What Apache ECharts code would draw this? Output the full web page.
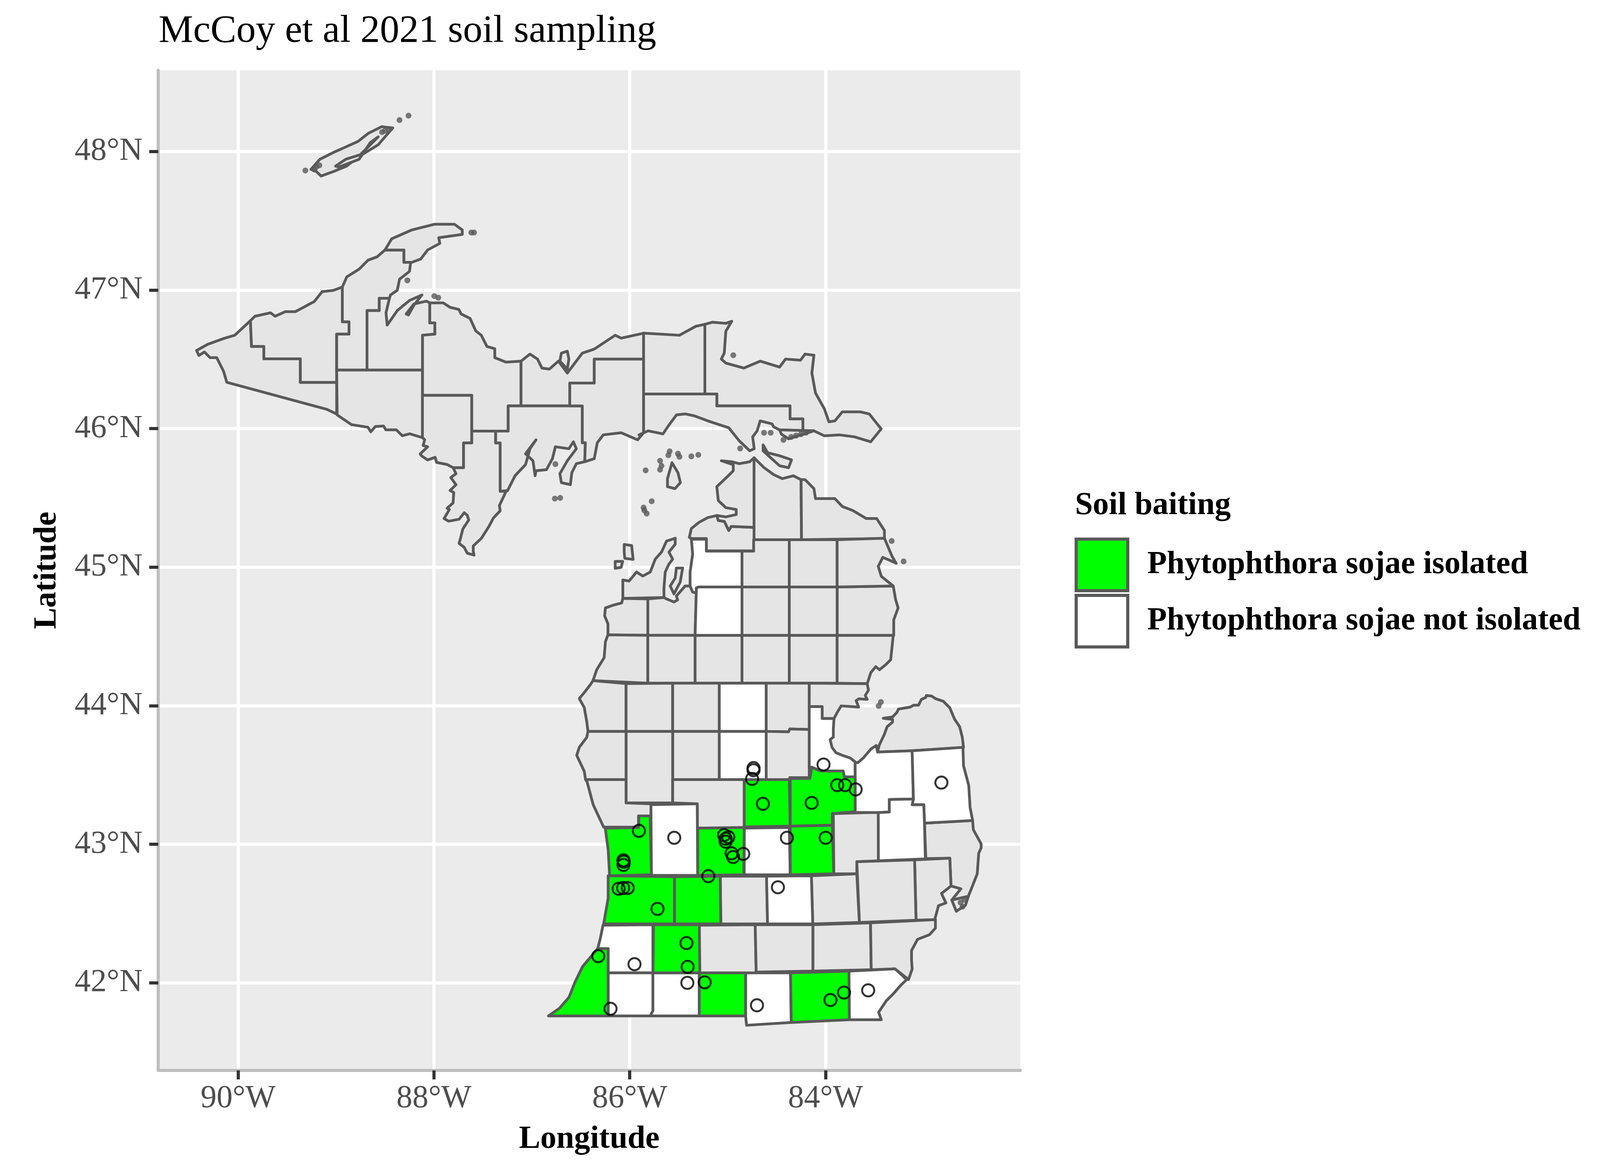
<!DOCTYPE html>
<html>
<head>
<meta charset="utf-8">
<title>McCoy et al 2021 soil sampling</title>
<script src="https://cdn.jsdelivr.net/npm/echarts@6/dist/echarts.min.js"></script>
<style>
  html, body { margin: 0; padding: 0; background: #fff; }
  #chart { width: 4200px; height: 3000px; }
</style>
</head>
<body>
<div id="chart"></div>
<script>
// Tick values and labels
var lonTicks = [-90, -88, -86, -84];
var lonLabels = ['90°W', '88°W', '86°W', '84°W'];
var latTicks = [42, 43, 44, 45, 46, 47, 48];
var latLabels = ['42°N', '43°N', '44°N', '45°N', '46°N', '47°N', '48°N'];

// Soil sampling sites [lon, lat]
var samplingSites = [
    [-84.735, 43.55], [-84.735, 43.535], [-84.75, 43.472], [-84.02, 43.576], [-82.816, 43.445],
    [-83.88, 43.427], [-83.80, 43.427], [-83.692, 43.396], [-84.639, 43.292], [-84.141, 43.299],
    [-85.906, 43.097], [-85.545, 43.047], [-84.394, 43.047], [-83.998, 43.047], [-85.036, 43.067],
    [-84.993, 43.052], [-85.02, 43.04], [-85.02, 43.019], [-84.959, 42.935], [-84.944, 42.908],
    [-84.84, 42.931], [-86.064, 42.885], [-86.061, 42.874], [-86.064, 42.851], [-85.197, 42.77],
    [-84.486, 42.69], [-86.113, 42.679], [-86.067, 42.685], [-86.02, 42.685], [-85.716, 42.534],
    [-85.42, 42.287], [-85.408, 42.115], [-85.411, 42.0], [-85.234, 42.004], [-86.321, 42.193],
    [-85.951, 42.135], [-86.196, 41.813], [-84.7, 41.838], [-83.949, 41.876], [-83.811, 41.93],
    [-83.564, 41.946]
];

// Counties where Phytophthora sojae was isolated
var ottawa = [[-86.25, 43.117], [-85.91, 43.121], [-85.905, 43.205], [-85.79, 43.205], [-85.778, 42.78], [-86.205, 42.773], [-86.22, 42.962]];
var allegan = [[-86.22, 42.773], [-85.542, 42.766], [-85.542, 42.425], [-86.266, 42.425], [-86.22, 42.611]];
var barry = [[-85.542, 42.766], [-85.075, 42.77], [-85.069, 42.425], [-85.542, 42.425]];
var ionia = [[-85.305, 43.117], [-84.83, 43.122], [-84.835, 42.78], [-85.305, 42.776]];
var gratiot = [[-84.83, 43.467], [-84.37, 43.467], [-84.36, 43.131], [-84.83, 43.125]];
var saginaw = [[-84.36, 43.475], [-84.16, 43.475], [-84.14, 43.556], [-84.05, 43.529], [-83.82, 43.529], [-83.807, 43.487], [-83.697, 43.487], [-83.697, 43.235], [-83.93, 43.221], [-83.93, 43.137], [-84.36, 43.131]];
var shiawassee = [[-84.36, 43.131], [-83.93, 43.137], [-83.915, 42.787], [-84.36, 42.78]];
var kalamazoo = [[-85.756, 42.42], [-85.289, 42.42], [-85.283, 42.072], [-85.763, 42.072]];
var berrien = [[-86.83, 41.761], [-86.22, 41.761], [-86.22, 42.247], [-86.327, 42.247], [-86.48, 42.119], [-86.56, 42.004], [-86.62, 41.896], [-86.72, 41.815]];
var branch = [[-85.289, 42.072], [-84.816, 42.072], [-84.816, 41.761], [-85.289, 41.761]];
var lenawee = [[-84.357, 42.072], [-83.76, 42.085], [-83.757, 41.734], [-84.35, 41.714]];

// Counties where it was not isolated
var antrim = [[-85.37, 45.202], [-85.217, 45.202], [-85.217, 45.116], [-84.853, 45.116], [-84.853, 44.857], [-85.294, 44.857], [-85.319, 44.85], [-85.319, 44.814], [-85.357, 44.821], [-85.383, 44.864], [-85.383, 44.965], [-85.357, 45.094]];
var kalkaska = [[-85.319, 44.85], [-85.294, 44.857], [-84.853, 44.857], [-84.853, 44.508], [-85.332, 44.508]];
var clare = [[-85.085, 44.163], [-84.606, 44.163], [-84.606, 43.815], [-85.085, 43.815]];
var isabella = [[-85.085, 43.815], [-84.606, 43.815], [-84.606, 43.467], [-85.085, 43.467]];
var bay = [[-84.166, 43.994], [-84.034, 43.994], [-84.034, 43.908], [-83.913, 43.908], [-83.92, 43.83], [-83.92, 43.774], [-83.953, 43.755], [-83.933, 43.699], [-83.893, 43.661], [-83.827, 43.642], [-83.747, 43.623], [-83.697, 43.595], [-83.697, 43.487], [-83.807, 43.487], [-83.82, 43.529], [-84.05, 43.529], [-84.14, 43.556], [-84.166, 43.556]];
var tuscola = [[-83.697, 43.23], [-83.697, 43.59], [-83.667, 43.59], [-83.614, 43.623], [-83.534, 43.689], [-83.481, 43.713], [-83.468, 43.666], [-83.115, 43.675], [-83.102, 43.327], [-83.348, 43.323], [-83.348, 43.233], [-83.461, 43.229]];
var sanilac = [[-83.115, 43.675], [-82.596, 43.70], [-82.59, 43.567], [-82.537, 43.426], [-82.523, 43.266], [-82.497, 43.172], [-82.989, 43.153], [-82.996, 43.285], [-83.115, 43.285], [-83.102, 43.327]];
var lapeer = [[-83.461, 43.229], [-83.348, 43.233], [-83.348, 43.323], [-83.102, 43.327], [-83.115, 43.285], [-82.996, 43.285], [-82.989, 43.153], [-82.98, 42.895], [-83.46, 42.881]];
var kent = [[-85.783, 43.286], [-85.31, 43.292], [-85.305, 42.776], [-85.778, 42.776]];
var clinton = [[-84.83, 43.117], [-84.37, 43.122], [-84.36, 42.78], [-84.83, 42.78]];
var ingham = [[-84.602, 42.77], [-84.144, 42.773], [-84.13, 42.425], [-84.592, 42.425]];
var vanBuren = [[-86.327, 42.247], [-86.22, 42.247], [-86.22, 42.072], [-85.763, 42.072], [-85.763, 42.42], [-86.272, 42.416], [-86.302, 42.315]];
var cass = [[-86.22, 42.072], [-85.763, 42.072], [-85.763, 41.798], [-85.79, 41.761], [-86.22, 41.761]];
var stJoseph = [[-85.763, 42.072], [-85.289, 42.072], [-85.289, 41.761], [-85.79, 41.761], [-85.763, 41.798]];
var hillsdale = [[-84.816, 42.072], [-84.357, 42.072], [-84.35, 41.714], [-84.806, 41.694], [-84.816, 41.761]];
var monroe = [[-83.76, 42.085], [-83.29, 42.101], [-83.17, 42.024], [-83.24, 41.976], [-83.305, 41.923], [-83.38, 41.87], [-83.457, 41.788], [-83.43, 41.734], [-83.757, 41.734]];

// Counties not sampled, lower peninsula
var charlevoix = [[-85.391, 45.215], [-85.37, 45.279], [-85.293, 45.323], [-85.202, 45.358], [-85.11, 45.373], [-85.095, 45.337], [-85.033, 45.33], [-84.988, 45.265], [-84.963, 45.294], [-84.728, 45.287], [-84.728, 45.118], [-85.217, 45.118], [-85.217, 45.207], [-85.37, 45.207]];
var emmet = [[-84.728, 45.79], [-84.774, 45.761], [-84.881, 45.747], [-84.957, 45.761], [-85.064, 45.768], [-84.942, 45.74], [-84.942, 45.696], [-85.003, 45.653], [-85.11, 45.581], [-85.095, 45.481], [-85.018, 45.43], [-84.912, 45.416], [-84.912, 45.38], [-85.018, 45.363], [-85.11, 45.373], [-85.095, 45.337], [-85.033, 45.33], [-84.988, 45.265], [-84.963, 45.294], [-84.728, 45.287]];
var cheboygan = [[-84.73, 45.79], [-84.63, 45.72], [-84.53, 45.668], [-84.44, 45.639], [-84.33, 45.66], [-84.25, 45.632], [-84.245, 45.198], [-84.73, 45.198]];
var presqueIsle = [[-84.249, 45.632], [-84.209, 45.632], [-84.118, 45.567], [-84.102, 45.495], [-83.904, 45.495], [-83.828, 45.438], [-83.721, 45.409], [-83.584, 45.351], [-83.477, 45.351], [-83.398, 45.265], [-83.398, 45.207], [-84.245, 45.198]];
var leelanau = [[-86.07, 44.775], [-86.07, 44.908], [-86.006, 44.90], [-85.93, 44.965], [-85.866, 44.936], [-85.79, 44.965], [-85.739, 45.058], [-85.675, 45.109], [-85.624, 45.188], [-85.535, 45.209], [-85.535, 45.166], [-85.599, 45.109], [-85.561, 45.058], [-85.599, 45.023], [-85.637, 44.965], [-85.65, 44.85], [-85.65, 44.781]];
var grandTraverse = [[-85.815, 44.771], [-85.65, 44.781], [-85.624, 44.771], [-85.548, 44.749], [-85.51, 44.764], [-85.523, 44.792], [-85.434, 44.864], [-85.383, 44.864], [-85.357, 44.821], [-85.319, 44.814], [-85.332, 44.508], [-85.815, 44.508]];
var oldMission = [[-85.523, 44.994], [-85.459, 44.994], [-85.484, 44.893], [-85.548, 44.807], [-85.586, 44.864], [-85.535, 44.922]];
var benzie = [[-86.222, 44.512], [-86.222, 44.591], [-86.256, 44.649], [-86.248, 44.706], [-86.159, 44.728], [-86.082, 44.742], [-86.07, 44.775], [-85.815, 44.771], [-85.815, 44.508]];
var manistee = [[-86.222, 44.512], [-85.815, 44.508], [-85.815, 44.163], [-86.375, 44.181], [-86.337, 44.26], [-86.261, 44.347], [-86.248, 44.462]];
var wexford = [[-85.815, 44.508], [-85.332, 44.508], [-85.332, 44.163], [-85.815, 44.163]];
var missaukee = [[-85.332, 44.508], [-84.853, 44.508], [-84.853, 44.163], [-85.332, 44.163]];
var roscommon = [[-84.853, 44.508], [-84.37, 44.508], [-84.37, 44.163], [-84.853, 44.163]];
var ogemaw = [[-84.37, 44.508], [-83.881, 44.508], [-83.881, 44.163], [-84.37, 44.163]];
var iosco = [[-83.881, 44.508], [-83.308, 44.508], [-83.321, 44.419], [-83.334, 44.332], [-83.385, 44.296], [-83.448, 44.26], [-83.487, 44.282], [-83.537, 44.239], [-83.574, 44.159], [-83.881, 44.163]];
var alcona = [[-83.881, 44.857], [-83.308, 44.864], [-83.283, 44.764], [-83.258, 44.706], [-83.303, 44.62], [-83.303, 44.508], [-83.881, 44.508]];
var crawford = [[-84.853, 44.857], [-84.37, 44.857], [-84.37, 44.508], [-84.853, 44.508]];
var oscoda = [[-84.37, 44.857], [-83.881, 44.857], [-83.881, 44.508], [-84.37, 44.508]];
var otsego = [[-84.734, 45.198], [-84.37, 45.198], [-84.37, 44.857], [-84.853, 44.857], [-84.853, 45.116], [-84.734, 45.116]];
var montmorency = [[-84.37, 45.198], [-83.881, 45.198], [-83.881, 44.857], [-84.37, 44.857]];
var alpena = [[-83.881, 45.198], [-83.398, 45.209], [-83.321, 45.08], [-83.278, 45.028], [-83.347, 45.051], [-83.415, 45.071], [-83.461, 45.006], [-83.43, 44.934], [-83.308, 44.864], [-83.881, 44.857]];
var mason = [[-86.375, 44.181], [-86.037, 44.16], [-86.037, 43.815], [-86.426, 43.815], [-86.439, 43.887], [-86.464, 43.987], [-86.515, 44.052], [-86.464, 44.095], [-86.401, 44.153]];
var lake = [[-86.037, 44.16], [-85.561, 44.163], [-85.561, 43.815], [-86.037, 43.815]];
var osceola = [[-85.561, 44.163], [-85.085, 44.163], [-85.085, 43.815], [-85.561, 43.815]];
var gladwin = [[-84.606, 44.163], [-84.166, 44.163], [-84.166, 43.829], [-84.365, 43.832], [-84.377, 43.812], [-84.606, 43.815]];
var arenac = [[-84.166, 44.163], [-83.574, 44.159], [-83.561, 44.112], [-83.594, 44.074], [-83.574, 44.046], [-83.66, 44.05], [-83.687, 44.037], [-83.661, 43.99], [-83.84, 43.999], [-83.88, 43.952], [-83.913, 43.908], [-84.034, 43.908], [-84.034, 43.994], [-84.166, 43.994]];
var midland = [[-84.606, 43.815], [-84.377, 43.812], [-84.365, 43.832], [-84.166, 43.829], [-84.166, 43.481], [-84.365, 43.481], [-84.365, 43.467], [-84.606, 43.467]];
var mecosta = [[-85.561, 43.815], [-85.085, 43.815], [-85.085, 43.467], [-85.561, 43.467]];
var newaygo = [[-86.037, 43.815], [-85.561, 43.815], [-85.561, 43.299], [-86.037, 43.299]];
var oceana = [[-86.426, 43.815], [-86.037, 43.815], [-86.037, 43.467], [-86.451, 43.467], [-86.464, 43.527], [-86.541, 43.642], [-86.515, 43.70], [-86.439, 43.771]];
var muskegon = [[-86.45, 43.467], [-86.037, 43.467], [-86.037, 43.299], [-85.783, 43.292], [-85.783, 43.205], [-85.91, 43.205], [-85.91, 43.124], [-86.266, 43.124], [-86.373, 43.286], [-86.434, 43.448]];
var montcalm = [[-85.561, 43.467], [-84.83, 43.467], [-84.83, 43.117], [-85.31, 43.117], [-85.31, 43.292], [-85.561, 43.299]];
var huron = [[-83.47, 43.666], [-83.45, 43.717], [-83.40, 43.792], [-83.37, 43.849], [-83.315, 43.882], [-83.315, 43.901], [-83.41, 43.91], [-83.315, 43.919], [-83.27, 43.952], [-83.255, 43.976], [-83.135, 43.99], [-83.10, 44.004], [-83.05, 44.004], [-83.02, 44.046], [-82.976, 44.06], [-82.97, 44.074], [-82.916, 44.07], [-82.876, 44.051], [-82.796, 44.032], [-82.73, 43.985], [-82.683, 43.905], [-82.63, 43.849], [-82.603, 43.774], [-82.59, 43.699], [-83.115, 43.675]];
var genesee = [[-83.92, 43.221], [-83.46, 43.232], [-83.46, 42.881], [-83.68, 42.874], [-83.68, 42.787], [-83.915, 42.787]];
var stClair = [[-82.989, 43.153], [-82.497, 43.172], [-82.49, 43.106], [-82.41, 43.003], [-82.41, 42.975], [-82.435, 42.935], [-82.45, 42.787], [-82.51, 42.679], [-82.572, 42.571], [-82.664, 42.517], [-82.71, 42.598], [-82.617, 42.679], [-82.718, 42.699], [-82.73, 42.9], [-82.975, 42.897]];
var macomb = [[-83.09, 42.888], [-82.73, 42.9], [-82.718, 42.699], [-82.815, 42.645], [-82.77, 42.577], [-82.846, 42.557], [-82.884, 42.456], [-83.075, 42.452]];
var oakland = [[-83.68, 42.874], [-83.09, 42.888], [-83.075, 42.452], [-83.654, 42.436]];
var livingston = [[-84.144, 42.773], [-83.68, 42.787], [-83.654, 42.436], [-84.13, 42.425]];
var eaton = [[-85.075, 42.77], [-84.602, 42.77], [-84.592, 42.425], [-85.069, 42.425]];
var calhoun = [[-85.289, 42.416], [-84.718, 42.42], [-84.708, 42.066], [-85.289, 42.072]];
var jackson = [[-84.718, 42.42], [-84.128, 42.42], [-84.128, 42.085], [-84.708, 42.078]];
var washtenaw = [[-84.128, 42.42], [-83.54, 42.433], [-83.533, 42.095], [-84.128, 42.085]];
var wayne = [[-83.54, 42.433], [-82.877, 42.456], [-82.877, 42.395], [-82.937, 42.348], [-83.06, 42.314], [-83.121, 42.233], [-83.121, 42.166], [-83.115, 42.099], [-83.152, 42.024], [-83.29, 42.101], [-83.533, 42.095]];

// Counties not sampled, upper peninsula
var gogebic = [[-90.424, 46.564], [-90.309, 46.609], [-90.149, 46.65], [-90.034, 46.674], [-89.874, 46.779], [-89.863, 46.593], [-89.737, 46.593], [-89.737, 46.504], [-89.364, 46.504], [-89.364, 46.334], [-88.993, 46.334], [-88.993, 46.105], [-89.096, 46.14], [-90.115, 46.334], [-90.149, 46.415], [-90.218, 46.512], [-90.286, 46.512], [-90.344, 46.553], [-90.401, 46.528]];
var ontonagon = [[-89.874, 46.779], [-89.828, 46.811], [-89.668, 46.836], [-89.622, 46.811], [-89.519, 46.844], [-89.416, 46.844], [-89.222, 46.917], [-89.141, 46.989], [-89.027, 46.998], [-88.935, 47.022], [-88.935, 46.771], [-88.867, 46.771], [-88.867, 46.682], [-88.993, 46.682], [-88.993, 46.334], [-89.364, 46.334], [-89.364, 46.504], [-89.737, 46.504], [-89.737, 46.593], [-89.863, 46.593]];
var houghton = [[-88.935, 47.022], [-88.89, 47.095], [-88.764, 47.151], [-88.672, 47.216], [-88.58, 47.24], [-88.5, 47.289], [-88.306, 47.289], [-88.306, 47.2], [-88.237, 47.2], [-88.249, 47.135], [-88.351, 47.078], [-88.374, 46.998], [-88.443, 46.965], [-88.454, 46.941], [-88.558, 46.941], [-88.558, 46.852], [-88.683, 46.852], [-88.683, 46.423], [-88.993, 46.423], [-88.993, 46.682], [-88.867, 46.682], [-88.867, 46.771], [-88.935, 46.771]];
var keweenaw = [[-88.5, 47.289], [-88.431, 47.37], [-88.225, 47.434], [-87.996, 47.475], [-87.79, 47.475], [-87.71, 47.434], [-87.71, 47.402], [-87.951, 47.378], [-87.939, 47.337], [-88.065, 47.289], [-88.134, 47.224], [-88.225, 47.2], [-88.306, 47.2], [-88.306, 47.289]];
var isleRoyale = [[-89.256, 47.871], [-89.164, 47.944], [-89.027, 47.993], [-88.9, 48.033], [-88.775, 48.073], [-88.672, 48.13], [-88.535, 48.179], [-88.42, 48.17], [-88.569, 48.049], [-88.66, 48.009], [-88.775, 47.96], [-88.89, 47.895], [-89.027, 47.855], [-89.153, 47.823], [-89.199, 47.855]];
var isleRoyaleHarbor = [[-89.004, 47.895], [-88.9, 47.944], [-88.752, 47.977], [-88.66, 48.041], [-88.569, 48.106], [-88.649, 48.065], [-88.764, 47.944], [-88.97, 47.888]];
var baraga = [[-88.558, 46.941], [-88.454, 46.941], [-88.489, 46.836], [-88.477, 46.747], [-88.374, 46.852], [-88.249, 46.925], [-88.122, 46.965], [-88.203, 46.892], [-88.26, 46.82], [-88.283, 46.828], [-88.203, 46.9], [-88.077, 46.92], [-88.042, 46.908], [-88.042, 46.763], [-87.99, 46.763], [-87.99, 46.682], [-88.116, 46.674], [-88.116, 46.423], [-88.683, 46.423], [-88.683, 46.852], [-88.558, 46.852]];
var iron = [[-88.993, 46.423], [-88.117, 46.423], [-88.117, 45.935], [-88.247, 45.963], [-88.323, 45.949], [-88.384, 45.991], [-88.491, 45.991], [-88.514, 46.019], [-88.598, 46.015], [-88.644, 45.977], [-88.674, 46.01], [-88.842, 46.029], [-88.988, 46.099]];
var dickinson = [[-88.117, 46.241], [-87.613, 46.241], [-87.613, 45.897], [-87.697, 45.897], [-87.697, 45.718], [-87.804, 45.718], [-87.865, 45.741], [-87.972, 45.756], [-87.987, 45.793], [-88.064, 45.774], [-88.125, 45.803], [-88.14, 45.817], [-88.064, 45.869], [-88.11, 45.878], [-88.094, 45.92], [-88.117, 45.935]];
var menominee = [[-87.613, 45.982], [-87.369, 45.982], [-87.369, 45.897], [-87.323, 45.897], [-87.323, 45.548], [-87.262, 45.548], [-87.331, 45.445], [-87.323, 45.407], [-87.392, 45.355], [-87.438, 45.294], [-87.514, 45.209], [-87.598, 45.153], [-87.598, 45.115], [-87.59, 45.087], [-87.659, 45.101], [-87.69, 45.143], [-87.743, 45.172], [-87.728, 45.209], [-87.705, 45.275], [-87.644, 45.341], [-87.659, 45.374], [-87.69, 45.393], [-87.743, 45.346], [-87.85, 45.332], [-87.896, 45.351], [-87.842, 45.416], [-87.865, 45.426], [-87.804, 45.464], [-87.797, 45.539], [-87.835, 45.553], [-87.774, 45.595], [-87.827, 45.647], [-87.774, 45.675], [-87.804, 45.718], [-87.697, 45.718], [-87.697, 45.897], [-87.613, 45.897]];
var marquette = [[-88.116, 46.674], [-87.99, 46.682], [-87.99, 46.763], [-88.042, 46.763], [-88.042, 46.908], [-87.905, 46.908], [-87.836, 46.876], [-87.745, 46.86], [-87.722, 46.828], [-87.63, 46.795], [-87.573, 46.706], [-87.516, 46.674], [-87.458, 46.593], [-87.378, 46.577], [-87.378, 46.512], [-87.264, 46.48], [-87.11, 46.487], [-87.11, 46.164], [-87.241, 46.164], [-87.241, 45.982], [-87.613, 45.982], [-87.613, 46.241], [-88.116, 46.241]];
var alger = [[-87.11, 46.487], [-87.018, 46.538], [-86.942, 46.502], [-86.896, 46.437], [-86.82, 46.43], [-86.728, 46.487], [-86.637, 46.401], [-86.484, 46.545], [-86.362, 46.574], [-86.148, 46.674], [-86.087, 46.653], [-85.858, 46.689], [-85.858, 46.502], [-86.362, 46.502], [-86.362, 46.329], [-86.612, 46.329], [-86.612, 46.164], [-87.11, 46.164]];
var grandIsland = [[-86.698, 46.545], [-86.637, 46.559], [-86.621, 46.502], [-86.637, 46.43], [-86.713, 46.487]];
var delta = [[-87.241, 46.164], [-86.484, 46.164], [-86.484, 45.898], [-86.453, 45.898], [-86.459, 45.761], [-86.545, 45.747], [-86.591, 45.682], [-86.606, 45.596], [-86.698, 45.61], [-86.713, 45.675], [-86.637, 45.768], [-86.545, 45.855], [-86.575, 45.905], [-86.621, 45.855], [-86.759, 45.869], [-86.789, 45.783], [-86.85, 45.704], [-86.957, 45.696], [-86.966, 45.66], [-86.988, 45.768], [-87.064, 45.819], [-86.957, 45.919], [-87.018, 45.855], [-87.064, 45.74], [-87.171, 45.66], [-87.247, 45.553], [-87.323, 45.548], [-87.323, 45.897], [-87.369, 45.897], [-87.369, 45.982], [-87.241, 45.982]];
var schoolcraft = [[-86.612, 46.329], [-86.362, 46.329], [-86.362, 46.502], [-85.858, 46.502], [-85.858, 45.97], [-85.919, 45.919], [-86.087, 45.97], [-86.27, 45.955], [-86.331, 45.898], [-86.362, 45.783], [-86.459, 45.761], [-86.453, 45.898], [-86.484, 45.898], [-86.484, 46.164], [-86.612, 46.164]];
var luce = [[-85.858, 46.689], [-85.492, 46.674], [-85.324, 46.739], [-85.232, 46.753], [-85.232, 46.25], [-85.858, 46.25]];
var chippewa = [[-85.232, 46.753], [-85.156, 46.768], [-85.018, 46.76], [-84.957, 46.775], [-85.018, 46.703], [-85.034, 46.545], [-85.064, 46.502], [-85.018, 46.473], [-84.835, 46.437], [-84.667, 46.487], [-84.469, 46.444], [-84.408, 46.502], [-84.255, 46.494], [-84.209, 46.538], [-84.118, 46.53], [-84.139, 46.401], [-84.102, 46.257], [-84.011, 46.142], [-83.965, 46.049], [-83.904, 46.056], [-83.828, 46.121], [-83.644, 46.121], [-83.553, 46.106], [-83.431, 45.998], [-83.538, 45.905], [-83.706, 45.941], [-83.858, 45.955], [-84.011, 45.948], [-84.118, 45.984], [-84.231, 45.984], [-84.231, 46.07], [-84.362, 46.07], [-84.362, 46.164], [-85.11, 46.164], [-85.11, 46.25], [-85.232, 46.25]];
var mackinac = [[-85.858, 46.25], [-85.11, 46.25], [-85.11, 46.164], [-84.362, 46.164], [-84.362, 46.07], [-84.231, 46.07], [-84.231, 45.984], [-84.469, 45.991], [-84.53, 46.013], [-84.545, 46.034], [-84.667, 46.056], [-84.698, 45.984], [-84.744, 45.941], [-84.728, 45.855], [-84.774, 45.84], [-84.881, 45.912], [-84.988, 46.006], [-85.202, 46.056], [-85.339, 46.092], [-85.431, 46.106], [-85.522, 46.099], [-85.598, 46.027], [-85.66, 45.962], [-85.812, 45.984], [-85.904, 45.955], [-85.858, 45.97]];
var marquetteIslands = [[-84.469, 45.991], [-84.118, 45.984], [-84.377, 45.926], [-84.45, 45.96]];
var boisBlanc = [[-84.637, 45.883], [-84.591, 45.826], [-84.469, 45.804], [-84.347, 45.775], [-84.377, 45.718], [-84.469, 45.732], [-84.56, 45.79], [-84.637, 45.84]];
var beaverIsland = [[-85.568, 45.754], [-85.507, 45.682], [-85.482, 45.61], [-85.537, 45.567], [-85.614, 45.581], [-85.614, 45.639]];
var northManitou = [[-86.056, 45.164], [-85.98, 45.157], [-85.965, 45.056], [-86.05, 45.064], [-86.056, 45.107]];
var southManitou = [[-86.148, 45.042], [-86.072, 45.042], [-86.087, 44.999], [-86.148, 44.992]];
var harsensIsland = [[-82.664, 42.517], [-82.71, 42.598], [-82.54, 42.625], [-82.57, 42.56]];

// Small islands too tiny to outline
var tinyIslands = [
    [-85.492, 45.797], [-85.507, 45.819], [-85.37, 45.80], [-85.299, 45.811], [-85.592, 45.836],
    [-85.605, 45.808], [-85.69, 45.768], [-85.675, 45.732], [-85.69, 45.704], [-85.837, 45.699],
    [-85.775, 45.476], [-85.858, 45.43], [-85.85, 45.41], [-85.827, 45.387], [-84.942, 46.53],
    [-84.872, 45.857], [-84.429, 45.919], [-83.324, 45.189], [-83.202, 45.042], [-86.759, 45.744],
    [-84.628, 45.97], [-84.56, 45.97], [-86.765, 45.495], [-86.71, 45.50], [-89.313, 47.863],
    [-88.351, 48.227], [-88.259, 48.259], [-87.618, 47.415], [-87.59, 47.415], [-88.271, 47.07],
    [-87.996, 46.957], [-87.955, 46.945], [-83.434, 44.027], [-83.457, 43.999], [-88.46, 48.16],
    [-88.5, 48.15], [-88.53, 48.14], [-89.2, 47.89], [-89.17, 47.90], [-89.22, 47.87],
    [-84.2, 45.97], [-84.3, 45.95], [-84.35, 45.94], [-84.25, 45.96], [-82.58, 42.6],
    [-82.62, 42.58], [-82.6, 42.55]
];

var isolatedCounties = [ottawa, allegan, barry, ionia, gratiot, saginaw, shiawassee, kalamazoo, berrien, branch, lenawee];
var notIsolatedCounties = [antrim, kalkaska, clare, isabella, bay, tuscola, sanilac, lapeer, kent, clinton, ingham, vanBuren, cass, stJoseph, hillsdale, monroe];
var otherCounties = [
    charlevoix, emmet, cheboygan, presqueIsle, leelanau, grandTraverse, oldMission, benzie, manistee, wexford,
    missaukee, roscommon, ogemaw, iosco, alcona, crawford, oscoda, otsego, montmorency, alpena, mason, lake,
    osceola, gladwin, arenac, midland, mecosta, newaygo, oceana, muskegon, montcalm, huron, genesee, stClair,
    macomb, oakland, livingston, eaton, calhoun, jackson, washtenaw, wayne, gogebic, ontonagon, houghton,
    keweenaw, isleRoyale, isleRoyaleHarbor, baraga, iron, dickinson, menominee, marquette, alger, grandIsland,
    delta, schoolcraft, luce, chippewa, mackinac, marquetteIslands, boisBlanc, beaverIsland, northManitou,
    southManitou, harsensIsland
];

var isolatedName = 'Phytophthora sojae isolated';
var notIsolatedName = 'Phytophthora sojae not isolated';
var serifFont = '"Liberation Serif", "Times New Roman", serif';

// One custom series per fill colour
function countySeries(name, list, fill) {
    return {
        name: name,
        type: 'custom',
        coordinateSystem: 'cartesian2d',
        clip: true,
        itemStyle: { color: fill, borderColor: '#595959', borderWidth: 8 },
        encode: { x: 0, y: 1 },
        data: list.map(function (county) {
            return county[0];
        }),
        renderItem: function (params, api) {
            var points = list[params.dataIndex].map(function (p) {
                return api.coord(p);
            });
            return {
                type: 'polygon',
                shape: { points: points },
                style: { fill: fill, stroke: '#595959', lineWidth: 7, lineJoin: 'round' }
            };
        }
    };
}

var chart = echarts.init(document.getElementById('chart'));
chart.setOption({
    animation: false,
    backgroundColor: '#ffffff',
    textStyle: { fontFamily: serifFont },
    title: [
        {
            text: 'McCoy et al 2021 soil sampling',
            left: 406,
            top: 31,
            padding: 0,
            textStyle: { fontFamily: serifFont, fontSize: 99.5, fontWeight: 'normal', color: '#000000' }
        },
        {
            text: 'Soil baiting',
            left: 2752,
            top: 1254,
            padding: 0,
            textStyle: { fontFamily: serifFont, fontSize: 82, fontWeight: 'bold', color: '#000000' }
        }
    ],
    grid: {
        show: true,
        left: 405,
        right: 1588,
        top: 180,
        bottom: 260,
        backgroundColor: '#EBEBEB',
        borderWidth: 0
    },
    legend: {
        left: 2751,
        top: 1376,
        orient: 'vertical',
        padding: 0,
        itemWidth: 132,
        itemHeight: 132,
        itemGap: 4,
        selectedMode: false,
        textStyle: { fontFamily: serifFont, fontSize: 82, fontWeight: 'bold', color: '#000000', padding: [0, 0, 0, 45] },
        data: [
            { name: isolatedName, icon: 'rect', itemStyle: { color: '#00FF00', borderColor: '#595959', borderWidth: 8 } },
            { name: notIsolatedName, icon: 'rect', itemStyle: { color: '#FFFFFF', borderColor: '#595959', borderWidth: 8 } }
        ]
    },
    xAxis: {
        type: 'value',
        min: -90.816,
        max: -82.01,
        name: 'Longitude',
        nameLocation: 'middle',
        nameGap: 136,
        nameTextStyle: { fontFamily: serifFont, fontSize: 82, fontWeight: 'bold', color: '#000000' },
        axisLine: { show: true, onZero: false, lineStyle: { color: '#BEBEBE', width: 8 } },
        axisTick: { show: true, length: 23, customValues: lonTicks, lineStyle: { color: '#333333', width: 8 } },
        axisLabel: {
            margin: 31,
            customValues: lonTicks,
            fontFamily: serifFont,
            fontSize: 82,
            color: '#4D4D4D',
            formatter: function (v) { return lonLabels[lonTicks.indexOf(v)]; }
        },
        splitLine: { show: true, lineStyle: { color: '#FFFFFF', width: 8 } },
        minorSplitLine: { show: false }
    },
    yAxis: {
        type: 'value',
        min: 41.368,
        max: 48.586,
        name: 'Latitude',
        nameLocation: 'middle',
        nameGap: 243,
        nameRotate: 90,
        nameTextStyle: { fontFamily: serifFont, fontSize: 82, fontWeight: 'bold', color: '#000000' },
        axisLine: { show: true, onZero: false, lineStyle: { color: '#BEBEBE', width: 8 } },
        axisTick: { show: true, length: 23, customValues: latTicks, lineStyle: { color: '#333333', width: 8 } },
        axisLabel: {
            margin: 40,
            customValues: latTicks,
            fontFamily: serifFont,
            fontSize: 82,
            color: '#4D4D4D',
            formatter: function (v) { return latLabels[latTicks.indexOf(v)]; }
        },
        splitLine: { show: true, lineStyle: { color: '#FFFFFF', width: 8 } },
        minorSplitLine: { show: false }
    },
    series: [
        countySeries('Other counties', otherCounties, '#E5E5E5'),
        countySeries(notIsolatedName, notIsolatedCounties, '#FFFFFF'),
        countySeries(isolatedName, isolatedCounties, '#00FF00'),
        {
            name: 'Tiny islands',
            type: 'scatter',
            symbol: 'circle',
            symbolSize: 15,
            silent: true,
            itemStyle: { color: '#595959' },
            data: tinyIslands
        },
        {
            name: 'Sampling sites',
            type: 'scatter',
            symbol: 'circle',
            symbolSize: 31,
            silent: true,
            itemStyle: { color: 'rgba(0,0,0,0)', borderColor: '#000000', borderWidth: 5 },
            data: samplingSites
        }
    ]
});
</script>
</body>
</html>
